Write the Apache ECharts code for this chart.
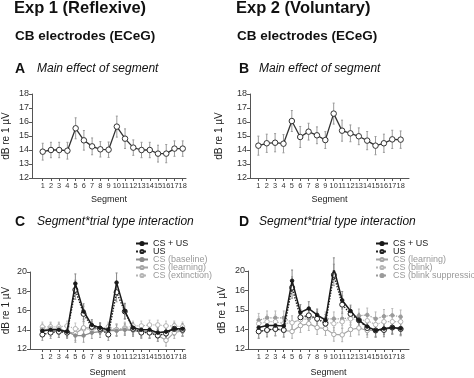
<!DOCTYPE html>
<html>
<head>
<meta charset="utf-8">
<script src="https://cdn.jsdelivr.net/npm/echarts@6/dist/echarts.min.js"></script>
<style>html,body{margin:0;padding:0;background:#fff}#c{width:474px;height:378px}</style>
</head>
<body>
<div id="c"></div>
<script>
// ---------- data ----------
const segments = [1,2,3,4,5,6,7,8,9,10,11,12,13,14,15,16,17,18];

// Panel A (Exp 1, main effect)
const aMean = [13.88,14.0,14.0,13.95,15.55,14.69,14.26,14.05,14.02,15.67,14.81,14.17,14.0,14.0,13.74,13.74,14.1,14.1];
const aErr  = [0.6,0.55,0.55,0.6,0.75,0.7,0.6,0.55,0.55,0.75,0.7,0.55,0.55,0.55,0.6,0.65,0.55,0.55];

// Panel B (Exp 2, main effect)
const bMean = [14.31,14.48,14.52,14.45,16.07,14.93,15.31,15.05,14.71,16.6,15.38,15.19,14.98,14.67,14.31,14.48,14.76,14.74];
const bErr  = [0.68,0.65,0.65,0.65,0.75,0.75,0.6,0.6,0.6,0.75,0.75,0.6,0.6,0.65,0.65,0.65,0.65,0.62];

// Panel C (Exp 1, interaction)
const cCsUs  = [13.9,14.0,14.0,13.8,18.8,15.9,14.5,14.2,14.0,18.9,15.95,14.2,14.0,14.0,13.7,13.8,14.1,14.1];
const cUs    = [13.5,13.7,13.8,13.7,18.15,15.65,14.3,14.1,13.5,17.9,15.9,14.1,13.7,13.7,13.4,13.6,14.1,14.0];
const cBase  = [13.9,13.9,13.8,13.8,13.4,13.4,13.7,13.8,13.9,13.9,14.0,13.9,13.8,13.8,13.7,13.8,14.0,13.9];
const cLearn = [14.0,14.1,14.1,13.8,13.6,14.2,14.2,14.1,14.0,14.0,14.1,14.0,13.9,13.7,13.4,12.9,13.7,13.9];
const cExt   = [14.3,14.3,14.3,14.4,14.1,14.1,14.0,14.1,14.3,14.0,14.2,14.4,14.4,14.5,14.5,14.4,14.4,14.3];
const cErrCsUs  = [0.5,0.5,0.5,0.5,1.0,0.8,0.55,0.5,0.5,1.0,0.8,0.5,0.5,0.5,0.5,0.5,0.5,0.5];
const cErrUs    = [0.6,0.6,0.6,0.6,1.0,0.8,0.6,0.6,0.6,1.0,0.8,0.6,0.6,0.6,0.6,0.6,0.6,0.6];
const cErrBase  = [0.6,0.6,0.6,0.6,0.7,0.7,0.6,0.6,0.6,0.6,0.6,0.6,0.6,0.6,0.6,0.6,0.6,0.6];
const cErrLearn = [0.6,0.6,0.6,0.6,0.7,0.7,0.6,0.6,0.6,0.6,0.6,0.6,0.6,0.6,0.6,0.6,0.6,0.6];
const cErrExt   = [0.5,0.5,0.5,0.5,0.6,0.6,0.5,0.5,0.5,0.6,0.6,0.5,0.5,0.5,0.5,0.5,0.5,0.5];

// Panel D (Exp 2, interaction)
const dCsUs  = [14.2,14.4,14.4,14.35,19.0,15.75,16.15,15.5,14.95,20.25,17.0,15.9,14.95,14.3,13.9,14.1,14.2,14.1];
const dUs    = [13.8,13.95,14.05,13.95,18.3,15.25,15.45,15.1,14.6,19.6,16.55,15.6,14.95,14.15,13.9,13.95,14.2,14.05];
const dLearn = [13.8,13.95,14.05,13.9,13.8,14.4,14.6,14.2,14.1,13.5,13.45,14.0,14.15,13.9,13.9,14.0,14.2,14.1];
const dBlink = [14.6,14.8,14.8,14.6,14.7,15.0,15.4,15.1,14.8,14.6,14.8,15.1,15.0,14.9,14.5,14.8,14.8,14.8];
const dSupp  = [14.95,15.2,15.2,15.2,14.7,15.0,15.1,15.3,15.1,15.1,15.1,15.2,15.4,15.5,15.1,15.35,15.45,15.3];
const dErrCsUs  = [0.6,0.6,0.6,0.6,1.1,0.8,0.7,0.6,0.6,1.1,0.9,0.6,0.6,0.6,0.6,0.6,0.6,0.6];
const dErrUs    = [0.7,0.7,0.7,0.7,1.1,0.8,0.7,0.7,0.7,1.1,0.9,0.7,0.7,0.7,0.7,0.7,0.7,0.7];
const dErrLearn = [0.7,0.7,0.7,0.7,0.7,0.7,0.7,0.7,0.7,0.7,0.7,0.7,0.7,0.7,0.7,0.7,0.7,0.7];
const dErrBlink = [0.7,0.7,0.7,0.7,0.7,0.7,0.7,0.7,0.7,0.7,0.7,0.7,0.7,0.7,0.7,0.7,0.7,0.7];
const dErrSupp  = [0.7,0.7,0.7,0.7,0.7,0.7,0.7,0.7,0.7,0.7,0.7,0.7,0.7,0.7,0.7,0.7,0.7,0.7];

// tick labels
const yTicksAB = [12,13,14,15,16,17,18];
const yTicksC  = ['12','14','16','18','20'];
const yTicksD  = ['12','14','15','16','20'];

// ---------- chart ----------
const FONT = '"Liberation Sans", Arial, Helvetica, sans-serif';
const AX = '#555';

function xAxisCfg(gi, min, max, gap) {
  return {
    gridIndex: gi, type: 'value', min: min, max: max,
    axisLine: {show: true, onZero: false, lineStyle: {color: AX, width: 1}},
    axisTick: {show: true, customValues: segments, length: 3, lineStyle: {color: AX}},
    axisLabel: {customValues: segments, fontSize: 7.4, color: '#333', margin: 4, fontFamily: FONT,
      showMinLabel: true, showMaxLabel: true, hideOverlap: false},
    splitLine: {show: false},
    name: 'Segment', nameLocation: 'middle', nameGap: gap,
    nameTextStyle: {fontSize: 9, color: '#222', fontFamily: FONT}
  };
}
function yAxisCfg(gi, min, max, interval, labels, gap) {
  return {
    gridIndex: gi, type: 'value', min: min, max: max, interval: interval,
    axisLine: {show: true, onZero: false, lineStyle: {color: AX, width: 1}},
    axisTick: {show: true, length: 3, lineStyle: {color: AX}},
    axisLabel: {fontSize: 9, color: '#333', margin: 3, fontFamily: FONT,
      showMinLabel: true, showMaxLabel: true,
      formatter: function (v) { const i = Math.round((v - min) / interval); return labels[i] !== undefined ? String(labels[i]) : ''; }},
    splitLine: {show: false},
    name: 'dB re 1 µV', nameLocation: 'middle', nameGap: gap,
    nameTextStyle: {fontSize: 10, color: '#222', fontFamily: FONT}
  };
}

const series = [];
function errBars(gi, mean, err, color) {
  series.push({
    type: 'custom', xAxisIndex: gi, yAxisIndex: gi, z: 1, silent: true,
    data: segments.map((s, i) => [s, mean[i] - err[i], mean[i] + err[i]]),
    encode: {x: 0, y: [1, 2]},
    renderItem: function (params, api) {
      const x = api.value(0);
      const top = api.coord([x, api.value(2)]);
      const bot = api.coord([x, api.value(1)]);
      const c = 1;
      const st = {stroke: color, lineWidth: 1};
      return {type: 'group', children: [
        {type: 'line', shape: {x1: top[0], y1: top[1], x2: bot[0], y2: bot[1]}, style: st},
        {type: 'line', shape: {x1: top[0] - c, y1: top[1], x2: top[0] + c, y2: top[1]}, style: st},
        {type: 'line', shape: {x1: bot[0] - c, y1: bot[1], x2: bot[0] + c, y2: bot[1]}, style: st}
      ]};
    }
  });
}
function lineS(gi, name, mean, o) {
  series.push({
    type: 'line', name: name, xAxisIndex: gi, yAxisIndex: gi, z: o.z || 3,
    data: segments.map((s, i) => [s, mean[i]]),
    symbol: 'circle', symbolSize: o.size || 5,
    lineStyle: {color: o.line, width: o.width || 1.2, type: o.type || 'solid'},
    itemStyle: {color: o.fill, borderColor: o.line, borderWidth: o.bw === undefined ? 1 : o.bw},
    emphasis: {disabled: true}
  });
}

// A
errBars(0, aMean, aErr, '#9a9a9a');
lineS(0, 'Main A', aMean, {line: '#333', fill: '#fff', size: 5.5, width: 1.3});
// B
errBars(1, bMean, bErr, '#9a9a9a');
lineS(1, 'Main B', bMean, {line: '#333', fill: '#fff', size: 5.5, width: 1.3});
// C
errBars(2, cExt, cErrExt, '#c4c4c4');
errBars(2, cLearn, cErrLearn, '#b0b0b0');
errBars(2, cBase, cErrBase, '#a0a0a0');
errBars(2, cUs, cErrUs, '#999');
errBars(2, cCsUs, cErrCsUs, '#888');
lineS(2, 'CS (extinction)', cExt, {line: '#b5b5b5', fill: '#fff', type: 'dotted', size: 4.5, z: 2});
lineS(2, 'CS (learning)', cLearn, {line: '#a5a5a5', fill: '#fff', size: 4.5, z: 2});
lineS(2, 'CS (baseline)', cBase, {line: '#8a8a8a', fill: '#8a8a8a', size: 3.5, z: 2});
lineS(2, 'US', cUs, {line: '#222', fill: '#fff', type: 'dotted', size: 5, width: 1.4, z: 4});
lineS(2, 'CS + US', cCsUs, {line: '#1a1a1a', fill: '#1a1a1a', size: 3.5, width: 1.5, z: 5});
// D
errBars(3, dSupp, dErrSupp, '#b8b8b8');
errBars(3, dBlink, dErrBlink, '#c4c4c4');
errBars(3, dLearn, dErrLearn, '#b0b0b0');
errBars(3, dUs, dErrUs, '#999');
errBars(3, dCsUs, dErrCsUs, '#888');
lineS(3, 'CS (blink suppression)', dSupp, {line: '#9a9a9a', fill: '#9a9a9a', type: 'dotted', size: 3.5, z: 2});
lineS(3, 'CS (blink)', dBlink, {line: '#b5b5b5', fill: '#fff', type: 'dotted', size: 4.5, z: 2});
lineS(3, 'CS (learning)', dLearn, {line: '#a5a5a5', fill: '#fff', size: 4.5, z: 2});
lineS(3, 'US', dUs, {line: '#222', fill: '#fff', type: 'dotted', size: 5, width: 1.4, z: 4});
lineS(3, 'CS + US', dCsUs, {line: '#1a1a1a', fill: '#1a1a1a', size: 3.5, width: 1.5, z: 5});

function legendCfg(left, names, colors) {
  return {
    orient: 'vertical', left: left, top: 239, padding: 0,
    itemWidth: 12, itemHeight: 4, itemGap: -1,
    selectedMode: false,
    textStyle: {fontSize: 9, lineHeight: 8.5, fontFamily: FONT, padding: 0},
    data: names.map((n, i) => ({name: n, textStyle: {color: colors[i]}}))
  };
}

function t(text, left, top, size, weight, style) {
  return {text: text, left: left, top: top, padding: 0,
    textStyle: {fontSize: size, fontWeight: weight || 'normal', fontStyle: style || 'normal', color: '#111', fontFamily: FONT}};
}

const option = {
  animation: false,
  backgroundColor: '#fff',
  title: [
    t('Exp 1 (Reflexive)', 14, 0, 16.5, 'bold'),
    t('Exp 2 (Voluntary)', 236, 0, 16.5, 'bold'),
    t('CB electrodes (ECeG)', 15, 29, 13.5, 'bold'),
    t('CB electrodes (ECeG)', 237, 29, 13.5, 'bold'),
    t('A', 15, 62, 14, 'bold'),
    t('Main effect of segment', 37, 63, 12, 'normal', 'italic'),
    t('B', 239, 62, 14, 'bold'),
    t('Main effect of segment', 259, 63, 12, 'normal', 'italic'),
    t('C', 15, 215, 14, 'bold'),
    t('Segment*trial type interaction', 37, 216, 12, 'normal', 'italic'),
    t('D', 239, 215, 14, 'bold'),
    t('Segment*trial type interaction', 259, 216, 12, 'normal', 'italic')
  ],
  legend: [
    legendCfg(135, ['CS + US', 'US', 'CS (baseline)', 'CS (learning)', 'CS (extinction)'], ['#222', '#222', '#999', '#999', '#999']),
    legendCfg(375, ['CS + US', 'US', 'CS (learning)', 'CS (blink)', 'CS (blink suppression)'], ['#222', '#222', '#999', '#999', '#999'])
  ],
  grid: [
    {left: 29, top: 94, width: 157, height: 84},
    {left: 250, top: 94, width: 159, height: 84},
    {left: 27, top: 272, width: 158, height: 82},
    {left: 248, top: 271, width: 161, height: 83}
  ],
  xAxis: [
    xAxisCfg(0, -0.3, 18.4, 17),
    xAxisCfg(1, 0, 19, 17),
    xAxisCfg(2, -0.5, 18.3, 19),
    xAxisCfg(3, -0.28, 19, 19)
  ],
  yAxis: [
    yAxisCfg(0, 12, 18, 1, yTicksAB, 21),
    yAxisCfg(1, 12, 18, 1, yTicksAB, 26),
    yAxisCfg(2, 12, 20, 2, yTicksC, 19),
    yAxisCfg(3, 12, 20, 2, yTicksD, 21)
  ],
  series: series
};

const chart = echarts.init(document.getElementById('c'), null, {renderer: 'canvas'});
chart.setOption(option);
</script>
</body>
</html>
